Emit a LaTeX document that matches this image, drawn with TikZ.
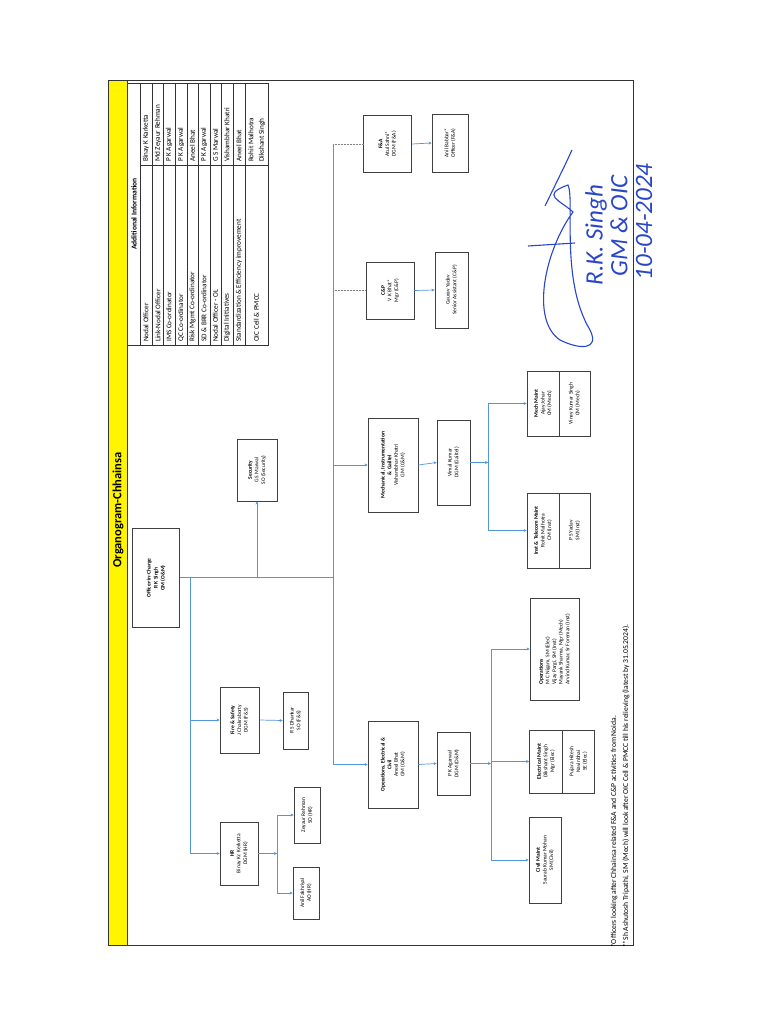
\documentclass[tikz,border=0pt]{standalone}
\usepackage{fontspec}
\setmainfont{Carlito}
\usetikzlibrary{arrows.meta}
\definecolor{lnblue}{RGB}{84,150,220}
\definecolor{inkblue}{RGB}{40,70,200}
\definecolor{bandyellow}{RGB}{255,245,0}
\begin{document}
\begin{tikzpicture}[x=1pt,y=-1pt,
  box/.style={draw=black!75,line width=0.8pt,fill=white,rotate=90,align=center,inner sep=1pt,font=\fontsize{5.5}{6.6}\selectfont},
  line/.style={draw=lnblue,line width=0.7pt},
  arr/.style={line,-{Stealth[length=3pt,width=3pt]}},
  dots/.style={draw=black!50,line width=0.5pt,densely dotted},
  tbl/.style={draw=black!80,line width=0.6pt},
  cell/.style={rotate=90,anchor=west,inner sep=1pt,font=\fontsize{7.2}{8}\selectfont},
  sig/.style={rotate=90,text=inkblue,font=\fontsize{25}{25}\selectfont\itshape}]
\useasboundingbox (0,0) rectangle (768,1024);
\fill[white] (0,0) rectangle (768,1024);
% frame and band
\fill[bandyellow] (108,80) rectangle (127,945);
\draw[black!80,line width=0.8pt] (108,80) rectangle (633,945);
\draw[black!80,line width=0.6pt] (127,80) -- (127,945);
\node[rotate=90,font=\fontsize{12.5}{13}\selectfont\bfseries] (title) at (118,510) {Organogram-Chhainsa};
% table
\draw[tbl] (127,83) rectangle (268,345);
\foreach \xx in {140,152,163,175,187,198,210,221,233,245} \draw[tbl] (\xx,83) -- (\xx,345);
\draw[tbl] (140,165) -- (268,165);
\node[rotate=90,font=\fontsize{7.5}{8}\selectfont\bfseries] (thead) at (134,214) {Additional Information};
\foreach \xx/\lab/\nm in {146/Nodal Officer/Binay K Karketta,
  158/Link-Nodal Officer/Md Zeyaur Rehman,
  169/IMS Co-ordinator/P K Agarwal,
  181/QC Co-ordinator/P K Agarwal,
  192.5/Risk Mgmt Co-ordinator/Aneel Bhat,
  204/SD \& BRR Co-ordinator/P K Agarwal,
  215.5/Nodal Officer - OL/G S Marwal,
  227/Digital Initiatives/Vishambhar Khatri,
  239/Standardization \& Efficiency improvement/Aneel Bhat}{
  \node[cell] at (\xx,343) {\lab};
  \node[cell] at (\xx,163) {\nm};}
\node[cell] (oicl) at (256.5,343) {OIC Cell \& PMCC};
\node[cell] (rm) at (251,163) {Rohit Malhotra};
\node[cell] (ds) at (262,163) {Dikshant Singh};
% boxes
\node[box,minimum width=99pt,minimum height=47pt,font=\fontsize{5.5}{7}\selectfont\bfseries] (oic) at (156,578) {Officer-in-Charge\\R K Singh\\GM (O\&M)};
\node[box,minimum width=62pt,minimum height=40pt] (sec) at (257,470) {\textbf{Security}\\G S Marwal\\SO (Security)};
\node[box,minimum width=66pt,minimum height=39pt] (fs) at (239.5,720) {\textbf{Fire \& Safety}\\J Chakraborty\\DGM (F\&S)};
\node[box,minimum width=57pt,minimum height=25pt] (rsd) at (295.5,720.5) {R S Dhankar\\SO (F\&S)};
\node[box,minimum width=63pt,minimum height=38pt] (hr) at (239,853.5) {\textbf{HR}\\Binay Kr. Kerketta\\DGM (HR)};
\node[box,minimum width=56pt,minimum height=26pt] (zr) at (307,815) {Zeyaur Rehman\\SO (HR)};
\node[box,minimum width=52pt,minimum height=26pt] (af) at (306,893) {Anil Fakhriyal\\AO (HR)};
\node[box,minimum width=57pt,minimum height=48pt] (fa) at (387.5,144) {\textbf{F\&A}\\Atul Sahni*\\DGM (F\&A)};
\node[box,minimum width=58pt,minimum height=36pt] (ab) at (450,143) {Anil Babbar*\\Officer (F\&A)};
\node[box,minimum width=57pt,minimum height=48pt] (cp) at (390,290.5) {\textbf{C\&P}\\V K Bhat*\\Mgr (C\&P)};
\node[box,minimum width=76pt,minimum height=33pt] (gy) at (451.5,290) {Gaurav Yadav\\Senior Assistant (C\&P)};
\node[box,minimum width=94pt,minimum height=50pt] (mech) at (393,465) {\textbf{Mechanical, Instrumentation}\\\textbf{\& Gailtel}\\Vishambhar Khatri\\GM (C\&M)};
\node[box,minimum width=85pt,minimum height=33pt] (vk) at (453.5,462.5) {Vimal Kumar\\DGM (Gailtel)};
\node[box,minimum width=65pt,minimum height=32pt] (mm) at (543,403.5) {\textbf{Mech Maint}\\Ajay Johar\\CM (Mech)};
\node[box,minimum width=65pt,minimum height=31pt] (mmb) at (574.5,403.5) {Vinay Kumar Singh\\CM (Mech)};
\node[box,minimum width=75pt,minimum height=32pt] (it) at (543,530.5) {\textbf{Inst \& Telecom Maint}\\Rohit Malhotra\\CM (Inst)};
\node[box,minimum width=75pt,minimum height=31pt] (itb) at (574.5,530.5) {P S Yadav\\SM (Inst)};
\node[box,minimum width=87pt,minimum height=50pt] (eoc) at (393,764.5) {\textbf{Operations, Electrical \&}\\\textbf{Civil}\\Aneel Bhat\\GM (O\&M)};
\node[box,minimum width=63pt,minimum height=33pt] (pk) at (453.5,763.5) {P K Agarwal\\DGM (O\&M)};
\node[box,minimum width=102pt,minimum height=49pt,align=left] (ops) at (554.5,649) {\hfill\textbf{Operations}\hfill\null\\M C Nigam, SM (Elec)\\Vijay Pargi, SM (Inst)\\Mayank Sharma, Mgr (Mech)\\Arvind Kumar, Sr Foreman (Inst)};
\node[box,minimum width=63pt,minimum height=33pt] (em) at (546,761.5) {\textbf{Electrical Maint}\\Dikshant Singh\\Mgr (Elec)};
\node[box,minimum width=63pt,minimum height=32pt] (emb) at (578.5,761.5) {Pujara Hitesh\\Navinbhai\\SE (Elec)};
\node[box,minimum width=86pt,minimum height=32pt] (cm) at (545,860) {\textbf{Civil Maint}\\Saurab Kumar Mohan\\SM (Civil)};
% connectors
\coordinate (j1) at (333,577);
\coordinate (jl) at (190,577);
\coordinate (hrj) at (277,853.5);
\coordinate (vkj) at (488,462.5);
\coordinate (pkj) at (491,763.5);
\draw[line] (oic.south |- j1) -- (j1);
\draw[line] (fa.north -| j1) -- (eoc.north -| j1);
\draw[arr] (sec.west |- j1) -- (sec.west);
\draw[line] (jl) -- (hr.north -| jl);
\draw[arr] (fs.north -| jl) -- (fs.north);
\draw[arr] (hr.north -| jl) -- (hr.north);
\draw[arr] (fs.south) -- (rsd.north);
\draw[arr] (hr.south) -- (hrj);
\draw[line] (zr.north -| hrj) -- (af.north -| hrj);
\draw[arr] (zr.north -| hrj) -- (zr.north);
\draw[arr] (af.north -| hrj) -- (af.north);
\draw[dots] (fa.north -| j1) -- (fa.north);
\draw[dots] (cp.north -| j1) -- (cp.north);
\draw[arr] (fa.south) -- (ab.north);
\draw[arr] (cp.south) -- (gy.north);
\draw[arr] (mech.north -| j1) -- (mech.north);
\draw[arr] (eoc.north -| j1) -- (eoc.north);
\draw[arr] (mech.south) -- (vk.north);
\draw[arr] (vk.south) -- (vkj);
\draw[line] (mm.north -| vkj) -- (it.north -| vkj);
\draw[arr] (mm.north -| vkj) -- (mm.north);
\draw[arr] (it.north -| vkj) -- (it.north);
\draw[arr] (eoc.south) -- (pk.north);
\draw[arr] (pk.south) -- (pkj);
\draw[line] (ops.north -| pkj) -- (cm.north -| pkj);
\draw[arr] (ops.north -| pkj) -- (ops.north);
\draw[arr] (em.north -| pkj) -- (em.north);
\draw[arr] (cm.north -| pkj) -- (cm.north);
% footnotes
\node[rotate=90,anchor=west,inner sep=0pt,font=\fontsize{7.6}{8}\selectfont] (fn1) at (614,948) {*Officers looking after Chhainsa related F\&A and C\&P activities from Noida.};
\node[rotate=90,anchor=west,inner sep=0pt,font=\fontsize{7.6}{8}\selectfont] (fn2) at (626,948) {**Sh Ashutosh Tripathi, SM (Mech) will look after OIC Cell \& PMCC till his relieving (latest by 31.05.2024).};
% signature
\draw[inkblue,line width=1.1pt] (560,340) .. controls (530,320) and (545,250) .. (573,212)
  .. controls (560,200) and (540,195) .. (568,185)
  .. controls (575,200) and (560,280) .. (590,330) .. controls (600,350) and (580,350) .. (560,340);
\draw[inkblue,line width=1.1pt] (528,246) -- (575,243);
\draw[inkblue,line width=1.1pt] (545,206) -- (565,165) -- (572,150);
\node[sig] (s1) at (596,235) {R.K. Singh};
\node[sig] (s2) at (619,226) {GM \& OIC};
\node[sig] (s3) at (644,222) {10-04-2024};
\end{tikzpicture}
\end{document}
